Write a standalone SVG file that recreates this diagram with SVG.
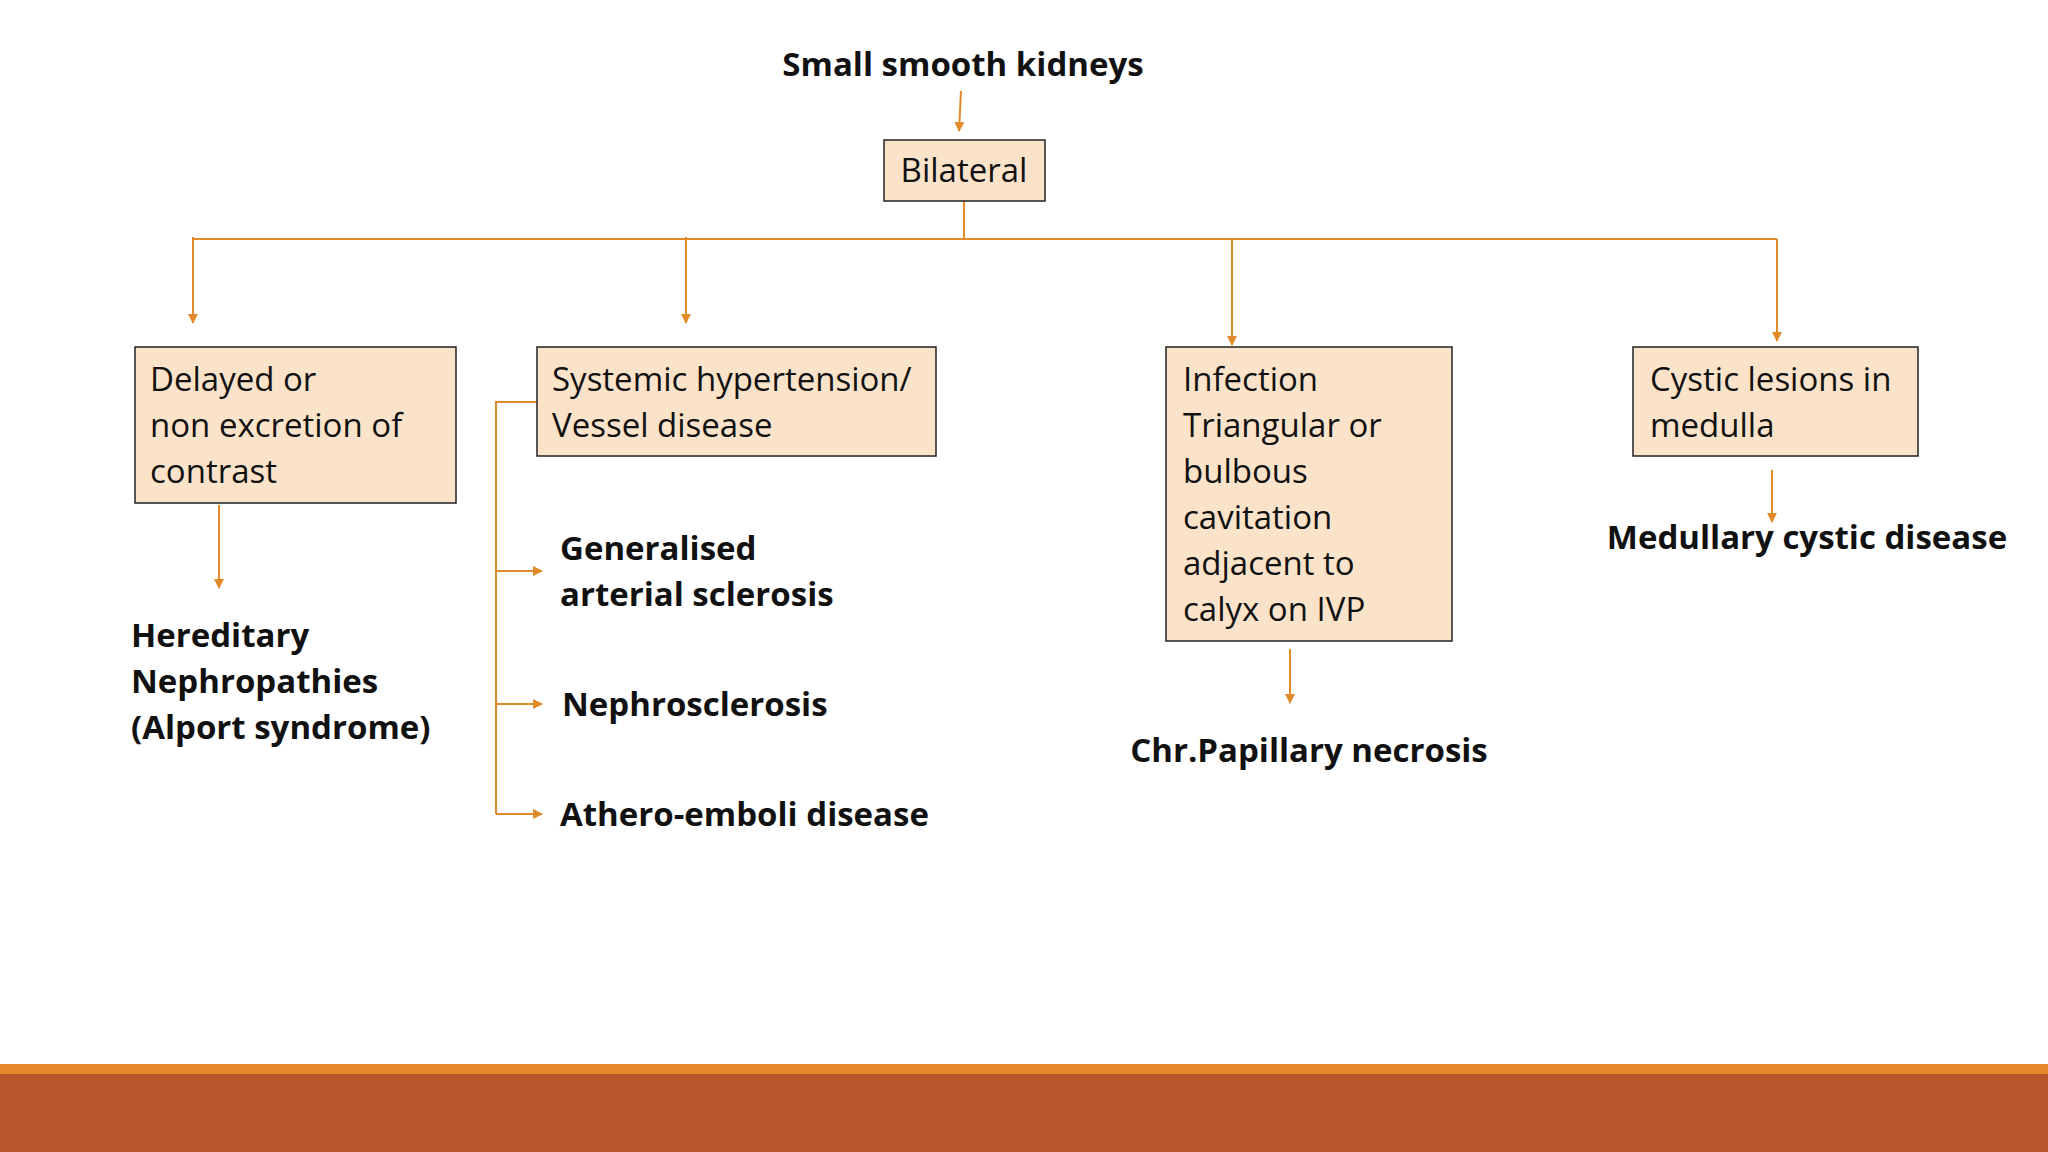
<svg xmlns="http://www.w3.org/2000/svg" width="2048" height="1152" viewBox="0 0 2048 1152">
<defs>
<style>
.box{fill:#FBE3C9;stroke:#222;stroke-width:1.5}
.ln{stroke:#E08A2A;stroke-width:2;fill:none}
.t{font-family:"Open Sans","Liberation Sans",sans-serif;font-size:33px;fill:#111}
.b{font-family:"Open Sans","Liberation Sans",sans-serif;font-size:33px;font-weight:bold;fill:#111}
</style>
<marker id="ar" markerWidth="10" markerHeight="10" refX="9" refY="5" orient="auto" markerUnits="userSpaceOnUse"><path d="M0,0 L10,5 L0,10 z" fill="#E08A2A"/></marker>
</defs>
<rect width="2048" height="1152" fill="#fff"/>
<g id="connectors">
<path class="ln" d="M961,91 L959,131" marker-end="url(#ar)"/>
<path class="ln" d="M964,201 V239 M193,239 H1777"/>
<path class="ln" d="M193,237 V323" marker-end="url(#ar)"/>
<path class="ln" d="M686,237 V323" marker-end="url(#ar)"/>
<path class="ln" d="M1232,239 V345" marker-end="url(#ar)"/>
<path class="ln" d="M1777,239 V341" marker-end="url(#ar)"/>
<path class="ln" d="M219,505 V588" marker-end="url(#ar)"/>
<path class="ln" d="M537,402 H496 V814"/>
<path class="ln" d="M496,571 H542" marker-end="url(#ar)"/>
<path class="ln" d="M496,704 H542" marker-end="url(#ar)"/>
<path class="ln" d="M496,814 H542" marker-end="url(#ar)"/>
<path class="ln" d="M1290,649 V703" marker-end="url(#ar)"/>
<path class="ln" d="M1772,470 V522" marker-end="url(#ar)"/>
</g>
<g id="title"><text class="b" x="963" y="76" text-anchor="middle" font-size="36">Small smooth kidneys</text></g>
<g id="bilateral"><rect class="box" x="884" y="140" width="161" height="61"/><text class="t" x="964" y="182" text-anchor="middle">Bilateral</text></g>
<g id="n1"><rect class="box" x="135" y="347" width="321" height="156"/>
<text class="t" x="150" y="391">Delayed or</text><text class="t" x="150" y="437">non excretion of</text><text class="t" x="150" y="483">contrast</text></g>
<g id="n2"><rect class="box" x="537" y="347" width="399" height="109"/>
<text class="t" x="552" y="391">Systemic hypertension/</text><text class="t" x="552" y="437">Vessel disease</text></g>
<g id="n3"><rect class="box" x="1166" y="347" width="286" height="294"/>
<text class="t" x="1183" y="391">Infection</text><text class="t" x="1183" y="437">Triangular or</text><text class="t" x="1183" y="483">bulbous</text><text class="t" x="1183" y="529">cavitation</text><text class="t" x="1183" y="575">adjacent to</text><text class="t" x="1183" y="621">calyx on IVP</text></g>
<g id="n4"><rect class="box" x="1633" y="347" width="285" height="109"/>
<text class="t" x="1650" y="391">Cystic lesions in</text><text class="t" x="1650" y="437">medulla</text></g>
<g id="hered"><text class="b" x="131" y="647">Hereditary</text><text class="b" x="131" y="693">Nephropathies</text><text class="b" x="131" y="739">(Alport syndrome)</text></g>
<g id="gen"><text class="b" x="560" y="560">Generalised</text><text class="b" x="560" y="606">arterial sclerosis</text></g>
<g id="neph"><text class="b" x="562" y="716">Nephrosclerosis</text></g>
<g id="athero"><text class="b" x="560" y="826">Athero-emboli disease</text></g>
<g id="chr"><text class="b" x="1309" y="762" text-anchor="middle">Chr.Papillary necrosis</text></g>
<g id="med"><text class="b" x="1807" y="549" text-anchor="middle">Medullary cystic disease</text></g>
<rect x="0" y="1064" width="2048" height="10" fill="#E5892A"/>
<rect x="0" y="1074" width="2048" height="78" fill="#B9572C"/>
</svg>
